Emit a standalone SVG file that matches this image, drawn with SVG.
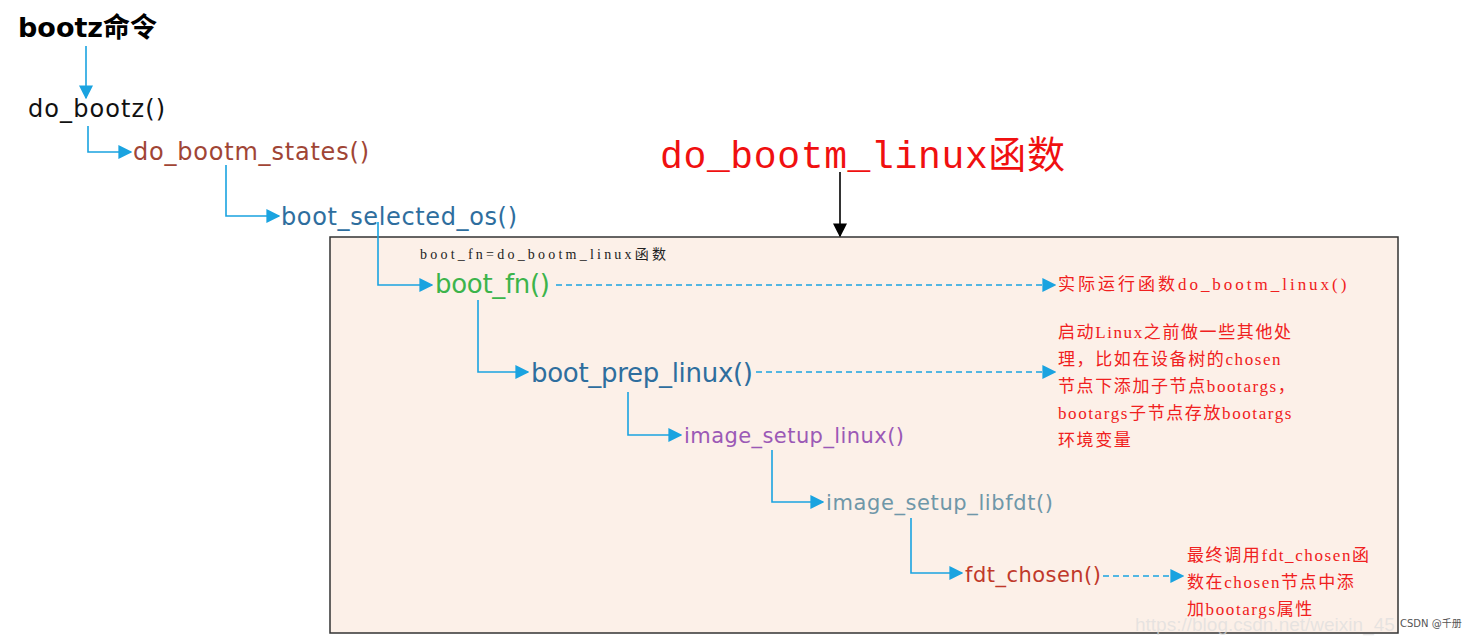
<svg xmlns="http://www.w3.org/2000/svg" width="1478" height="640" viewBox="0 0 1478 640">
<defs>
<marker id="a" viewBox="0 0 10 10" refX="9" refY="5" markerWidth="14" markerHeight="14" markerUnits="userSpaceOnUse" orient="auto"><path d="M0,0L10,5L0,10z" fill="#1aa3e0"/></marker>
<marker id="k" viewBox="0 0 10 10" refX="9" refY="5" markerWidth="14" markerHeight="14" markerUnits="userSpaceOnUse" orient="auto"><path d="M0,0L10,5L0,10z" fill="#000"/></marker>
<style>
.s{font-family:"DejaVu Sans","Noto Sans CJK SC",sans-serif}
.r{font-family:"Liberation Serif","Noto Sans CJK SC",serif;fill:#f02020;font-size:17px;letter-spacing:1.6px}
.c{fill:none;stroke:#1aa3e0;stroke-width:1.6;marker-end:url(#a)}
.d{fill:none;stroke:#1aa3e0;stroke-width:1.6;stroke-dasharray:6,4;marker-end:url(#a)}
</style>
</defs>
<rect width="1478" height="640" fill="#fff"/>
<g id="box"><rect x="330" y="237" width="1068" height="396" fill="#fcf0e8" stroke="#333" stroke-width="1.5"/></g>
<g id="connectors">
<path class="c" d="M86,46V98"/>
<path class="c" d="M88,126V152H131"/>
<path class="c" d="M226,165V216H279"/>
<path class="c" d="M378,222V285H432"/>
<path class="c" d="M478,300V372H528"/>
<path class="c" d="M628,392V435H681"/>
<path class="c" d="M772,450V502H823"/>
<path class="c" d="M911,518V573H962"/>
<path class="d" d="M556,285H1055"/>
<path class="d" d="M756,372H1055"/>
<path class="d" d="M1103,576H1183"/>
<path d="M840,172V236" stroke="#000" stroke-width="1.6" marker-end="url(#k)"/>
</g>
<g id="n1"><text class="s" x="18" y="37" font-size="27" font-weight="bold">bootz命令</text></g>
<g id="n2"><text class="s" x="28" y="117" font-size="24" fill="#111" textLength="137">do_bootz()</text></g>
<g id="n3"><text class="s" x="133" y="160" font-size="24" fill="#a04535" textLength="236">do_bootm_states()</text></g>
<g id="n4"><text class="s" x="281" y="225" font-size="24" fill="#2e6e9e" textLength="236">boot_selected_os()</text></g>
<g id="title"><text x="660" y="168" font-size="38" fill="#f01010" font-family="Liberation Mono,'Noto Sans CJK SC',monospace" textLength="405">do_bootm_linux函数</text></g>
<g id="note0"><text x="420" y="259" font-size="14" fill="#222" font-family="Liberation Serif,'Noto Sans CJK SC',serif" textLength="246">boot_fn=do_bootm_linux函数</text></g>
<g id="n5"><text class="s" x="435" y="293" font-size="26" fill="#3cb44b" textLength="115">boot_fn()</text></g>
<g id="n6"><text class="s" x="531" y="382" font-size="26" fill="#2e6e9e" textLength="222">boot_prep_linux()</text></g>
<g id="n7"><text class="s" x="684" y="443" font-size="21" fill="#9b59b6" textLength="220">image_setup_linux()</text></g>
<g id="n8"><text class="s" x="826" y="510" font-size="21" fill="#6f97a8" textLength="227">image_setup_libfdt()</text></g>
<g id="n9"><text class="s" x="965" y="582" font-size="21" fill="#c0392b" textLength="136">fdt_chosen()</text></g>
<g id="note1"><text class="r" x="1058" y="290" textLength="290">实际运行函数do_bootm_linux()</text></g>
<g id="note2">
<text class="r" x="1058" y="338">启动Linux之前做一些其他处</text>
<text class="r" x="1058" y="365">理，比如在设备树的chosen</text>
<text class="r" x="1058" y="392">节点下添加子节点bootargs，</text>
<text class="r" x="1058" y="419">bootargs子节点存放bootargs</text>
<text class="r" x="1058" y="446">环境变量</text>
</g>
<g id="note3">
<text class="r" x="1187" y="561">最终调用fdt_chosen函</text>
<text class="r" x="1187" y="588">数在chosen节点中添</text>
<text class="r" x="1187" y="615">加bootargs属性</text>
</g>
<g id="wm"><text x="1135" y="631" font-size="19" fill="#ddd" fill-opacity="0.7" font-family="Liberation Sans,sans-serif">https://blog.csdn.net/weixin_45</text><text class="s" x="1400" y="627" font-size="10" fill="#555">CSDN @千册</text></g>
</svg>
